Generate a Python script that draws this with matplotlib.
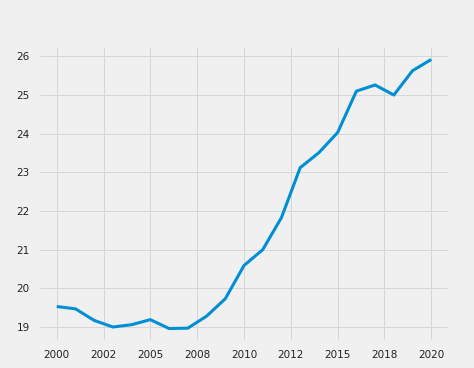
import matplotlib
matplotlib.use("Agg")
import matplotlib.pyplot as plt
from matplotlib.ticker import MultipleLocator, StrMethodFormatter

years = list(range(2000, 2021))
values = [19.53, 19.47, 19.17, 19.00, 19.06, 19.19, 18.96, 18.97, 19.28, 19.73,
          20.59, 21.00, 21.83, 23.12, 23.51, 24.03, 25.10, 25.26, 25.00, 25.63, 25.92]

plt.style.use("fivethirtyeight")

fig = plt.figure(figsize=(4.74, 3.68), dpi=100)
ax = fig.add_axes([38 / 474, 26 / 368, 412 / 474, 296 / 368])

ax.plot(years, values, color="#008fd5", linewidth=2.2)

ax.xaxis.set_major_locator(MultipleLocator(2.5))
ax.xaxis.set_major_formatter(StrMethodFormatter("{x:.0f}"))
ax.yaxis.set_major_locator(MultipleLocator(1))
ax.tick_params(labelsize=7.5, colors="#222222", pad=6)
ax.grid(color="#d6d6d6", linewidth=0.7)

plt.savefig("out.png", dpi=100)
